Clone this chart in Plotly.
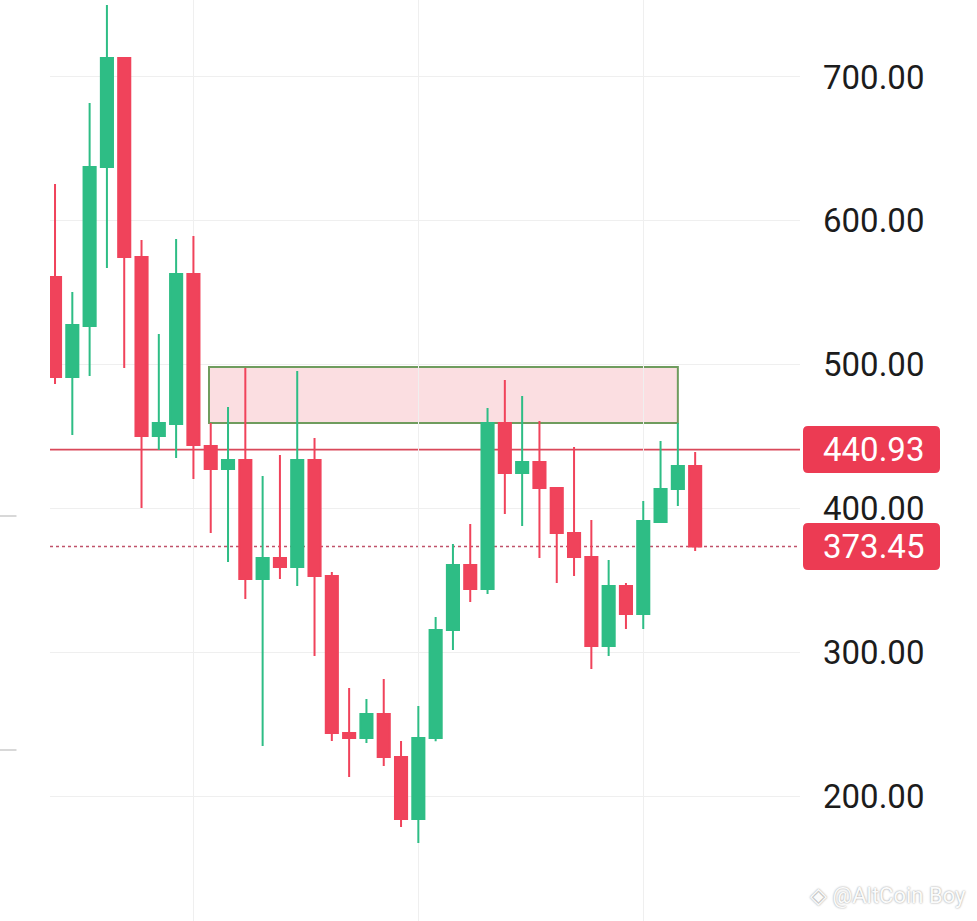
import plotly.graph_objects as go

# ---- data ----
candle_idx = list(range(38))
opens = [560.9, 491.4, 526.8, 637.4, 713.2, 574.8, 450.3, 458.7, 563.0, 443.4,
         427.4, 433.7, 350.9, 365.5, 359.3, 433.7, 353.0, 243.8, 240.3, 257.0,
         227.1, 184.0, 240.3, 315.4, 360.6, 344.0, 459.4, 424.6, 432.3, 414.2,
         382.9, 366.2, 304.3, 346.0, 326.6, 390.5, 413.5, 429.5]
highs = [625.6, 550.5, 681.9, 750.1, 713.9, 586.6, 521.3, 587.3, 589.4, 459.4,
         470.5, 497.6, 422.5, 437.1, 495.6, 449.0, 355.8, 275.1, 267.5, 281.4,
         238.2, 262.6, 324.5, 375.2, 389.2, 469.8, 489.3, 478.2, 460.8, 414.5,
         442.7, 391.9, 364.1, 348.1, 405.1, 446.9, 459.4, 439.2]
lows = [486.5, 451.0, 492.1, 567.2, 497.6, 400.3, 440.6, 435.0, 420.4, 382.9,
        362.7, 337.0, 234.8, 350.9, 346.0, 297.4, 238.2, 213.2, 236.9, 220.9,
        178.4, 167.3, 238.0, 301.5, 334.9, 340.5, 396.1, 387.8, 365.5, 348.1,
        353.0, 288.3, 297.4, 316.1, 316.1, 390.0, 401.7, 370.4]
closes = [491.4, 527.5, 637.4, 713.2, 574.8, 450.3, 459.4, 563.0, 444.1, 427.4,
          433.7, 350.9, 365.5, 359.3, 433.7, 353.0, 243.8, 240.3, 257.0, 227.1,
          184.0, 240.3, 315.4, 360.6, 344.0, 459.4, 424.6, 432.3, 414.2, 382.9,
          366.2, 304.3, 346.0, 326.6, 391.2, 413.5, 429.5, 373.45]

y_ticks = [200, 300, 400, 500, 600, 700]
y_tick_labels = ["200.00", "300.00", "400.00", "500.00", "600.00", "700.00"]
x_grid = [8, 21, 34]

level_price = 440.93
last_price = 373.45
zone_x = [8.9, 36.0]
zone_y = [459.4, 498.3]
edge_marks = [394.7, 232.0]

GREEN = "#2ebd85"
RED = "#f0435b"

fig = go.Figure()
fig.add_trace(go.Candlestick(
    x=candle_idx, open=opens, high=highs, low=lows, close=closes,
    increasing=dict(line=dict(color=GREEN, width=2), fillcolor=GREEN),
    decreasing=dict(line=dict(color=RED, width=2), fillcolor=RED),
    whiskerwidth=0, showlegend=False, hoverinfo="skip",
))

shapes = []
# supply zone
shapes.append(dict(type="rect", xref="x", yref="y", x0=zone_x[0], x1=zone_x[1],
                   y0=zone_y[0], y1=zone_y[1], fillcolor="rgba(248,190,196,0.5)",
                   line=dict(color="#6f9c5e", width=2), layer="below"))
# key level line
shapes.append(dict(type="line", xref="paper", yref="y", x0=0, x1=1,
                   y0=level_price, y1=level_price,
                   line=dict(color="#d9485a", width=1.8), layer="below"))
# last price dotted line
shapes.append(dict(type="line", xref="paper", yref="y", x0=0, x1=1,
                   y0=last_price, y1=last_price,
                   line=dict(color="#c0526a", width=1.5, dash="dot"), layer="below"))

rounded = ("M 8,-23.5 L 135,-23.5 Q 140,-23.5 140,-18.5 L 140,18.5 "
           "Q 140,23.5 135,23.5 L 8,23.5 Q 3,23.5 3,18.5 L 3,-18.5 Q 3,-23.5 8,-23.5 Z")
for price in [level_price, last_price]:
    shapes.append(dict(type="path", xref="paper", yref="y", xsizemode="pixel",
                       ysizemode="pixel", xanchor=1, yanchor=price, path=rounded,
                       fillcolor="#ec3b53", line=dict(width=0), layer="above"))

# left-edge artifacts (neighbouring panel)
for yv in edge_marks:
    shapes.append(dict(type="line", xref="paper", yref="y", x0=-0.0667, x1=-0.0447,
                       y0=yv, y1=yv, line=dict(color="#d8d8d8", width=2)))

annotations = []
for price in [level_price, last_price]:
    annotations.append(dict(xref="paper", yref="y", x=1, y=price, xanchor="left",
                            yanchor="middle", xshift=21, showarrow=False,
                            text=f"{price:.2f}",
                            font=dict(family="Roboto", size=33, color="white")))
annotations.append(dict(xref="paper", yref="paper", x=1.224, y=0.028, xanchor="right",
                        yanchor="middle", showarrow=False,
                        text="◈ @AltCoin Boy",
                        font=dict(family="Roboto", size=22, color="#fbfbfb",
                                  shadow="0px 0px 2px #8a8a8a")))

fig.update_layout(
    width=977, height=921,
    margin=dict(l=50, r=177, t=0, b=0),
    paper_bgcolor="white", plot_bgcolor="white",
    shapes=shapes, annotations=annotations,
    boxgap=0.3, boxgroupgap=0,
    xaxis=dict(range=[-0.29, 43.06], rangeslider=dict(visible=False),
               tickvals=x_grid, showticklabels=False, showgrid=True,
               gridcolor="#efefef", gridwidth=1, zeroline=False, showline=False,
               ticks="", fixedrange=True),
    yaxis=dict(range=[113.1, 753.5], side="right", tickvals=y_ticks,
               ticktext=y_tick_labels, showgrid=True, gridcolor="#efefef",
               gridwidth=1, zeroline=False, showline=False, ticks="",
               ticklabelstandoff=22,
               tickfont=dict(family="Roboto", size=33, color="#1c1c1c")),
    font=dict(family="Roboto"),
)

fig.write_html("out.html")
